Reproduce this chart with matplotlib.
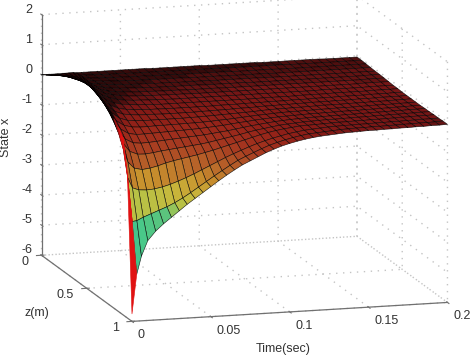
import matplotlib
matplotlib.use('Agg')
import matplotlib.pyplot as plt
from matplotlib.colors import LinearSegmentedColormap, Normalize
from mpl_toolkits.mplot3d import proj3d
import numpy as np

plt.rcParams['font.family'] = ['Liberation Sans', 'DejaVu Sans']
plt.rcParams['grid.linestyle'] = (0, (1, 4))
plt.rcParams['grid.color'] = '#c4c4c4'
plt.rcParams['grid.linewidth'] = 1.0
plt.rcParams['axes.edgecolor'] = '#707070'
plt.rcParams['xtick.color'] = '#707070'
plt.rcParams['ytick.color'] = '#707070'
plt.rcParams['axes3d.automargin'] = False

time_sec = [0, .003, .006, .01, .015, .02, .025, .03, .035, .04, .045, .05, .055, .06,
            .065, .07, .075, .08, .085, .09, .095, .1, .105, .11, .115, .12, .125, .13,
            .135, .14, .145, .15, .155, .16, .165, .17, .175, .18, .185, .19, .195, .2]
z_m = [0, .05, .1, .15, .2, .25, .3, .35, .4, .45, .5, .55, .6, .65, .7, .75, .8, .85, .9, .95, 1]

state_x = [
    [0,0,0,0,0,0,0,0,0,0,0,0,0,0,0,-.01,-.01,-.01,-.01,-.01,-.01,-.01,-.02,-.02,-.02,-.02,-.02,-.02,-.02,-.03,-.03,-.03,-.03,-.03,-.03,-.03,-.03,-.04,-.04,-.04,-.04,-.04],
    [.1,.09,.08,.07,.05,.03,.02,.01,.01,0,0,0,-.01,-.01,-.01,-.01,-.01,-.02,-.02,-.02,-.02,-.02,-.02,-.02,-.03,-.03,-.03,-.03,-.03,-.03,-.03,-.03,-.04,-.04,-.04,-.04,-.04,-.04,-.04,-.04,-.04,-.04],
    [.2,.19,.17,.13,.09,.06,.03,.02,.01,0,0,-.01,-.01,-.01,-.02,-.02,-.02,-.02,-.03,-.03,-.03,-.03,-.03,-.03,-.04,-.04,-.04,-.04,-.04,-.04,-.05,-.05,-.05,-.05,-.05,-.05,-.05,-.05,-.05,-.05,-.05,-.05],
    [.33,.3,.26,.2,.13,.08,.04,.02,.01,0,-.01,-.02,-.02,-.02,-.03,-.03,-.03,-.03,-.04,-.04,-.04,-.04,-.04,-.05,-.05,-.05,-.05,-.05,-.05,-.06,-.06,-.06,-.06,-.06,-.06,-.06,-.06,-.06,-.06,-.06,-.06,-.06],
    [.45,.41,.35,.26,.17,.09,.05,.02,0,-.01,-.02,-.03,-.03,-.04,-.04,-.04,-.05,-.05,-.05,-.05,-.05,-.06,-.06,-.06,-.06,-.06,-.06,-.07,-.07,-.07,-.07,-.07,-.07,-.07,-.07,-.07,-.07,-.07,-.07,-.07,-.07,-.07],
    [.6,.51,.43,.32,.2,.11,.05,.01,-.01,-.02,-.03,-.04,-.05,-.05,-.05,-.06,-.06,-.06,-.06,-.07,-.07,-.07,-.07,-.07,-.07,-.08,-.08,-.08,-.08,-.08,-.08,-.08,-.08,-.08,-.08,-.08,-.08,-.08,-.08,-.08,-.07,-.07],
    [.72,.6,.5,.36,.22,.11,.04,0,-.02,-.04,-.05,-.06,-.06,-.07,-.07,-.07,-.08,-.08,-.08,-.08,-.08,-.09,-.09,-.09,-.09,-.09,-.09,-.09,-.09,-.09,-.09,-.09,-.09,-.09,-.09,-.09,-.09,-.09,-.09,-.08,-.08,-.08],
    [.84,.68,.55,.37,.21,.09,.02,-.02,-.05,-.06,-.07,-.08,-.08,-.09,-.09,-.09,-.1,-.1,-.1,-.1,-.1,-.1,-.1,-.1,-.1,-.1,-.1,-.1,-.1,-.1,-.1,-.1,-.1,-.1,-.1,-.1,-.1,-.1,-.09,-.09,-.09,-.09],
    [.92,.71,.55,.35,.17,.05,-.02,-.06,-.08,-.09,-.1,-.11,-.11,-.12,-.12,-.12,-.12,-.12,-.12,-.12,-.12,-.12,-.12,-.12,-.12,-.12,-.12,-.12,-.12,-.12,-.12,-.12,-.11,-.11,-.11,-.11,-.11,-.11,-.1,-.1,-.1,-.1],
    [.94,.7,.52,.3,.11,-.01,-.07,-.1,-.12,-.13,-.14,-.15,-.15,-.15,-.15,-.15,-.15,-.15,-.15,-.15,-.15,-.15,-.15,-.15,-.14,-.14,-.14,-.14,-.14,-.13,-.13,-.13,-.13,-.12,-.12,-.12,-.12,-.12,-.11,-.11,-.11,-.1],
    [.92,.66,.46,.22,.03,-.08,-.13,-.16,-.17,-.18,-.18,-.19,-.19,-.19,-.19,-.19,-.19,-.19,-.18,-.18,-.18,-.17,-.17,-.17,-.16,-.16,-.16,-.15,-.15,-.15,-.14,-.14,-.14,-.13,-.13,-.13,-.13,-.12,-.12,-.12,-.11,-.11],
    [.88,.6,.38,.13,-.06,-.16,-.2,-.22,-.23,-.23,-.24,-.24,-.24,-.24,-.24,-.23,-.23,-.22,-.22,-.21,-.2,-.2,-.19,-.18,-.18,-.17,-.17,-.16,-.16,-.15,-.15,-.15,-.14,-.14,-.14,-.13,-.13,-.13,-.12,-.12,-.12,-.11],
    [.78,.52,.28,.02,-.17,-.26,-.29,-.3,-.3,-.3,-.3,-.3,-.3,-.29,-.29,-.28,-.27,-.26,-.25,-.24,-.23,-.22,-.2,-.19,-.18,-.18,-.17,-.17,-.16,-.16,-.15,-.15,-.15,-.14,-.14,-.14,-.13,-.13,-.13,-.12,-.12,-.11],
    [.7,.4,.15,-.13,-.3,-.37,-.39,-.39,-.38,-.38,-.37,-.37,-.36,-.36,-.35,-.34,-.32,-.31,-.29,-.27,-.25,-.23,-.22,-.2,-.19,-.18,-.18,-.17,-.17,-.16,-.16,-.15,-.15,-.15,-.14,-.14,-.13,-.13,-.13,-.12,-.12,-.11],
    [.6,.25,-.02,-.3,-.46,-.51,-.51,-.5,-.49,-.48,-.47,-.46,-.45,-.44,-.42,-.4,-.38,-.35,-.32,-.3,-.27,-.25,-.23,-.21,-.2,-.19,-.18,-.17,-.17,-.16,-.16,-.15,-.15,-.15,-.14,-.14,-.13,-.13,-.12,-.12,-.11,-.11],
    [.46,.05,-.25,-.52,-.66,-.69,-.68,-.66,-.64,-.62,-.6,-.58,-.56,-.54,-.51,-.48,-.45,-.41,-.37,-.33,-.3,-.27,-.24,-.22,-.2,-.19,-.18,-.17,-.17,-.16,-.16,-.15,-.15,-.14,-.14,-.13,-.13,-.12,-.12,-.11,-.11,-.1],
    [.3,-.2,-.55,-.82,-.93,-.94,-.91,-.87,-.84,-.81,-.78,-.75,-.72,-.68,-.63,-.58,-.53,-.48,-.42,-.37,-.33,-.29,-.25,-.23,-.21,-.19,-.18,-.17,-.16,-.16,-.15,-.15,-.14,-.14,-.13,-.13,-.12,-.12,-.11,-.11,-.1,-.1],
    [.12,-.6,-1.05,-1.27,-1.33,-1.3,-1.24,-1.16,-1.1,-1.05,-1.0,-.95,-.89,-.83,-.76,-.69,-.62,-.55,-.48,-.41,-.35,-.3,-.26,-.23,-.2,-.19,-.18,-.17,-.16,-.15,-.15,-.14,-.14,-.13,-.13,-.12,-.12,-.11,-.11,-.1,-.1,-.09],
    [-.1,-1.45,-1.8,-1.88,-1.9,-1.88,-1.83,-1.76,-1.67,-1.57,-1.46,-1.34,-1.22,-1.1,-.98,-.87,-.77,-.67,-.58,-.5,-.43,-.37,-.31,-.27,-.23,-.21,-.19,-.17,-.16,-.15,-.15,-.14,-.14,-.13,-.13,-.12,-.12,-.11,-.11,-.1,-.1,-.09],
    [-1.3,-2.8,-2.78,-2.68,-2.58,-2.48,-2.38,-2.26,-2.12,-1.96,-1.79,-1.62,-1.45,-1.29,-1.13,-.98,-.86,-.75,-.64,-.54,-.46,-.39,-.33,-.28,-.24,-.22,-.2,-.18,-.16,-.15,-.14,-.14,-.13,-.13,-.12,-.12,-.11,-.11,-.1,-.1,-.09,-.08],
    [-5.75,-4.45,-3.85,-3.35,-3.05,-2.82,-2.62,-2.42,-2.22,-2.04,-1.86,-1.68,-1.5,-1.33,-1.17,-1.02,-.9,-.78,-.66,-.56,-.47,-.4,-.34,-.29,-.25,-.22,-.2,-.18,-.16,-.15,-.14,-.13,-.13,-.12,-.12,-.11,-.11,-.1,-.1,-.09,-.09,-.08],
]

time_ticks = [0, .05, .1, .15, .2]
time_labels = ['0', '0.05', '0.1', '0.15', '0.2']
z_ticks = [0, .5, 1]
z_labels = ['0', '0.5', '1']
state_ticks = [-6, -5, -4, -3, -2, -1, 0, 1, 2]

# dark top to teal bottom
colors = [(-6, '#5a5a38'), (-4.6, '#35b48e'), (-3.2, '#48c88a'), (-2.55, '#5cc47c'), (-2.35, '#b4c448'),
          (-2.0, '#c8b83c'), (-1.6, '#c8922e'), (-1.2, '#b8662a'), (-.7, '#a63820'), (-.4, '#98261a'),
          (-.2, '#861a16'), (-.1, '#761616'), (-.03, '#4a0e0e'), (0, '#300a0a'), (2, '#1a0505')]
norm = Normalize(-6, 2)
cmap = LinearSegmentedColormap.from_list('state', [(norm(v), c) for v, c in colors])

T, Z = np.meshgrid(time_sec, z_m)
X = np.array(state_x)
cells = (X[:-1, :-1] + X[1:, :-1] + X[:-1, 1:] + X[1:, 1:]) / 4
face_colors = cmap(norm(cells))
# the first time step shows as a bright red strip near z=1
face_colors[-3:, 0] = matplotlib.colors.to_rgba('#e01212')
face_colors[-4, 0] = matplotlib.colors.to_rgba('#a81414')

fig = plt.figure(figsize=(4.74, 3.56), dpi=100)
ax = fig.add_axes([-17.4/474, -64.4/356, 510/474, 510/356], projection='3d', proj_type='ortho')
ax.patch.set_alpha(0)
ax.view_init(elev=12.1, azim=-106)
ax.set_box_aspect((1, 1, .75))

surf = ax.plot_surface(T, Z, X, facecolors=face_colors, rstride=1, cstride=1, shade=False)
edge_colors = np.tile((0, 0, 0, .85), (cells.size, 1))
edge_colors[cells.shape[1] * np.arange(cells.shape[0] - 4, cells.shape[0])] = face_colors[-4:, 0]
surf.set_edgecolor(edge_colors)
surf.set_linewidth(.42)

ax.set_xlim(0, .2, view_margin=0)
ax.set_ylim(1, 0, view_margin=0)
ax.set_zlim(-6, 2, view_margin=0)
ax.set_xticks(time_ticks, [''] * len(time_ticks))
ax.set_yticks(z_ticks, [''] * len(z_ticks))
ax.set_zticks(state_ticks, [''] * len(state_ticks))

for a in (ax.xaxis, ax.yaxis, ax.zaxis):
    a.set_pane_color((1, 1, 1, 0))
    a.pane.set_edgecolor((1, 1, 1, 0))
    a.line.set_color('#707070')
    a.line.set_linewidth(.9)
ax.zaxis._get_tickdir = lambda pos: 1


def tick_label(x, y, z, text, dx, dy, ha):
    px, py, _ = proj3d.proj_transform(x, y, z, ax.get_proj())
    ax.annotate(text, (px, py), xytext=(dx, dy), textcoords='offset pixels', ha=ha, va='center',
                fontsize=9, color='#333333', annotation_clip=False)


for t, s in zip(time_ticks, time_labels):
    tick_label(t, 1, -6, s, 6, -14, 'left')
for m, s in zip(z_ticks, z_labels):
    tick_label(0, m, -6, s, -13, -7, 'right')
for v in state_ticks:
    tick_label(0, 0, v, str(v), -9, 5, 'right')

fig.text(6/474, 1 - 137/356, 'State x', rotation=90, ha='center', va='center', fontsize=9, color='#333333')
fig.text(37/474, 1 - 313/356, 'z(m)', ha='center', va='center', fontsize=9, color='#333333')
fig.text(283/474, 1 - 349/356, 'Time(sec)', ha='center', va='center', fontsize=9, color='#333333')

fig.savefig('out.png', dpi=100)
